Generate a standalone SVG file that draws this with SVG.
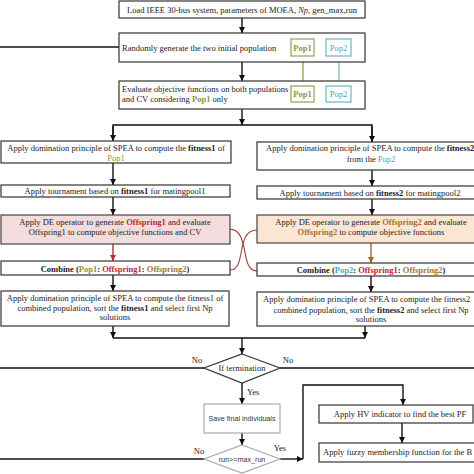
<svg xmlns="http://www.w3.org/2000/svg" width="474" height="474" viewBox="0 0 474 474">
<defs>
<marker id="ah" viewBox="0 0 10 10" refX="10" refY="5" markerWidth="6" markerHeight="6" markerUnits="userSpaceOnUse" orient="auto"><path d="M0,0 L10,5 L0,10 z" fill="#111"/></marker>
<marker id="ahr" viewBox="0 0 10 10" refX="10" refY="5" markerWidth="6" markerHeight="6" markerUnits="userSpaceOnUse" orient="auto"><path d="M0,0 L10,5 L0,10 z" fill="#b0303a"/></marker>
<marker id="ahb" viewBox="0 0 10 10" refX="10" refY="5" markerWidth="6" markerHeight="6" markerUnits="userSpaceOnUse" orient="auto"><path d="M0,0 L10,5 L0,10 z" fill="#a0672e"/></marker>
</defs>
<style>
.box{fill:#fff;stroke:#333;stroke-width:1.2}
.pink{fill:#f3dcdc;stroke:#444;stroke-width:1.2}
.peach{fill:#fbe6d4;stroke:#444;stroke-width:1.2}
.gbox{fill:#fff;stroke:#aaa;stroke-width:1.2}
.t{font-family:"Liberation Serif","Times New Roman",serif;font-size:8.5px;fill:#222}
.c{text-anchor:middle}
.s{font-family:"Liberation Sans",Arial,sans-serif;font-size:7.2px;fill:#333;text-anchor:middle}
.b{font-weight:bold}
.p1{fill:#8c9440}
.p2{fill:#4aa8bd}
.o1{fill:#c0282d}
.o2{fill:#a87431}
.ln{fill:none;stroke:#111;stroke-width:1.4}
</style>
<rect width="474" height="474" fill="#fff"/>

<g id="connectors">
<path class="ln" d="M242,18 V33" marker-end="url(#ah)"/>
<path class="ln" d="M242,62 V81" marker-end="url(#ah)"/>
<path class="ln" d="M0,47 H119"/>
<path d="M303,56 V86" stroke="#8c9440" stroke-width="1.2" fill="none"/>
<path d="M339,56 V86" stroke="#4aa8bd" stroke-width="1" fill="none"/>
<path class="ln" d="M242,109 V125" marker-end="url(#ah)"/>
<path class="ln" d="M113,141 V125 H372 V142" />
<path class="ln" d="M113,126 V141" marker-end="url(#ah)"/>
<path class="ln" d="M372,126 V142" marker-end="url(#ah)"/>
<path class="ln" d="M113,163 V185" marker-end="url(#ah)"/>
<path class="ln" d="M113,197 V215" marker-end="url(#ah)"/>
<path d="M113,244 V261" stroke="#b0303a" stroke-width="1.4" fill="none" marker-end="url(#ahr)"/>
<path class="ln" d="M113,275 V291" marker-end="url(#ah)"/>
<path class="ln" d="M372,170 V186" marker-end="url(#ah)"/>
<path class="ln" d="M372,199 V215" marker-end="url(#ah)"/>
<path d="M371,243 V263" stroke="#a0672e" stroke-width="1.4" fill="none" marker-end="url(#ahb)"/>
<path class="ln" d="M371,276 V292" marker-end="url(#ah)"/>
<path d="M229,229 C251,229 239,271 257,271" stroke="#a8343c" stroke-width="1.1" fill="none"/>
<path d="M257,230 C235,230 247,270 230,270" stroke="#9a4a3a" stroke-width="1.1" fill="none"/>
<path class="ln" d="M113,326 V338" marker-end="url(#ah)"/>
<path class="ln" d="M365,326 V338" marker-end="url(#ah)"/>
<path class="ln" d="M113,338 H365"/>
<path class="ln" d="M242,338 V354" marker-end="url(#ah)"/>
<path class="ln" d="M0,368 H204"/>
<path class="ln" d="M280,368 H474"/>
<path class="ln" d="M242,383 V404" marker-end="url(#ah)"/>
<path class="ln" d="M242,433 V445" marker-end="url(#ah)"/>
<path class="ln" d="M0,459 H204"/>
<path class="ln" d="M280,459 H303" marker-end="url(#ah)"/>
<path class="ln" d="M303,459 V385 H403 V405" marker-end="url(#ah)"/>
<path class="ln" d="M402,423 V443" marker-end="url(#ah)"/>
<text class="t" x="197" y="363" text-anchor="middle">No</text>
<text class="t" x="288" y="363" text-anchor="middle">No</text>
<text class="t" x="247" y="395">Yes</text>
<text class="t" x="199" y="454" text-anchor="middle">No</text>
<text class="t" x="280" y="451" text-anchor="middle">Yes</text>
</g>

<g id="load">
<rect class="box" x="119" y="1" width="246" height="17"/>
<text class="t c" x="242" y="13">Load IEEE 30-bus system, parameters of MOEA, <tspan font-style="italic">Np</tspan>, gen_max,run</text>
</g>

<g id="randomly">
<rect class="box" x="119" y="33" width="246" height="29"/>
<text class="t" x="122" y="51">Randomly generate the two initial population</text>
<rect x="291" y="39" width="23" height="17" fill="#fff" stroke="#8c9440" stroke-width="1.1"/>
<text class="t c b p1" x="302.5" y="50.5">Pop1</text>
<rect x="326" y="39" width="25" height="17" fill="#fff" stroke="#4aa8bd" stroke-width="1"/>
<text class="t c p2" x="338.5" y="50.5">Pop2</text>
</g>

<g id="evaluate">
<rect class="box" x="119" y="81" width="246" height="28"/>
<text class="t" x="122" y="92">Evaluate objective functions on both populations</text>
<text class="t" x="122" y="102">and CV considering <tspan class="b p1">Pop1</tspan> only</text>
<rect x="291" y="86" width="23" height="16" fill="#fff" stroke="#8c9440" stroke-width="1.1"/>
<text class="t c b p1" x="302.5" y="97">Pop1</text>
<rect x="326" y="86" width="25" height="16" fill="#fff" stroke="#4aa8bd" stroke-width="1"/>
<text class="t c p2" x="338.5" y="97">Pop2</text>
</g>

<g id="fit1">
<rect class="box" x="1" y="141" width="230" height="22"/>
<text class="t c" x="116" y="151">Apply domination principle of SPEA to compute the <tspan class="b">fitness1</tspan> of</text>
<text class="t c p1" x="116" y="160.5">Pop1</text>
</g>
<g id="tour1">
<rect class="box" x="1" y="185" width="229" height="12"/>
<text class="t c" x="115" y="194">Apply tournament based on <tspan class="b">fitness1</tspan> for matingpool1</text>
</g>
<g id="de1">
<rect class="pink" x="1" y="215" width="229" height="29"/>
<text class="t c" x="115" y="225">Apply DE operator to generate <tspan class="b o1">Offspring1</tspan> and evaluate</text>
<text class="t c" x="115" y="234.5">Offspring1 to compute objective functions and CV</text>
</g>
<g id="comb1">
<rect class="box" x="1" y="261" width="229" height="14"/>
<text class="t c b" x="115" y="271.5">Combine (<tspan class="p1">Pop1</tspan>: <tspan class="o1">Offspring1</tspan>: <tspan class="o2">Offspring2</tspan>)</text>
</g>
<g id="sel1">
<rect class="box" x="1" y="291" width="228" height="35"/>
<text class="t c" x="115" y="301">Apply domination principle of SPEA to compute the fitness1 of</text>
<text class="t c" x="115" y="310.5">combined population, sort the <tspan class="b">fitness1</tspan> and select first Np</text>
<text class="t c" x="115" y="320">solutions</text>
</g>

<g id="fit2">
<rect class="box" x="257" y="142" width="230" height="28"/>
<text class="t" x="266" y="151">Apply domination principle of SPEA to compute the <tspan class="b">fitness2</tspan></text>
<text class="t c" x="371" y="161.5">from the <tspan class="p2">Pop2</tspan></text>
</g>
<g id="tour2">
<rect class="box" x="257" y="186" width="230" height="13"/>
<text class="t c" x="370" y="195.5">Apply tournament based on <tspan class="b">fitness2</tspan> for matingpool2</text>
</g>
<g id="de2">
<rect class="peach" x="257" y="215" width="230" height="28"/>
<text class="t c" x="371" y="225">Apply DE operator to generate <tspan class="b o2">Offspring2</tspan> and evaluate</text>
<text class="t c" x="371" y="235"><tspan class="b o2">Offspring2</tspan> to compute objective functions</text>
</g>
<g id="comb2">
<rect class="box" x="257" y="263" width="230" height="13"/>
<text class="t c b" x="371" y="272.5">Combine (<tspan class="p2">Pop2</tspan>: <tspan class="o1">Offspring1</tspan>: <tspan class="o2">Offspring2</tspan>)</text>
</g>
<g id="sel2">
<rect class="box" x="257" y="292" width="230" height="34"/>
<text class="t" x="263" y="302">Apply domination principle of SPEA to compute the fitness2</text>
<text class="t c" x="371" y="312.5">combined population, sort the <tspan class="b">fitness2</tspan> and select first Np</text>
<text class="t c" x="371" y="322">solutions</text>
</g>

<g id="term">
<path d="M242,354 L280,368 L242,383 L204,368 Z" fill="#fff" stroke="#333" stroke-width="1.2"/>
<text class="t c" x="242" y="371">If termination</text>
</g>
<g id="save">
<rect class="gbox" x="204" y="404" width="76" height="29"/>
<text class="s" x="242" y="421">Save final individuals</text>
</g>
<g id="run">
<path d="M242,445 L280,459 L242,473 L204,459 Z" fill="#fff" stroke="#aaa" stroke-width="1.2"/>
<text class="s" x="242" y="461.5" font-size="6.8px">run&gt;=max_run</text>
</g>
<g id="hv">
<rect class="box" x="319" y="405" width="154" height="18"/>
<text class="t c" x="400" y="417">Apply HV indicator to find the best PF</text>
</g>
<g id="fuzzy">
<rect class="box" x="319" y="443" width="170" height="19"/>
<text class="t" x="323" y="455">Apply fuzzy membership function for the B</text>
</g>
</svg>
